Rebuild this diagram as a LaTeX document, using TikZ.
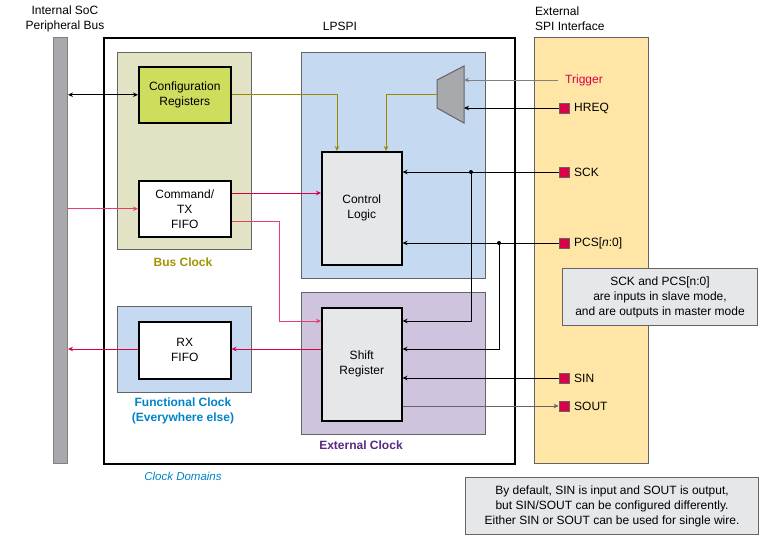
\documentclass[tikz,border=0pt]{standalone}
\usepackage{fontspec}
\setmainfont{Liberation Sans}
\usetikzlibrary{arrows.meta}

\definecolor{busclkfill}{RGB}{225,227,196}
\definecolor{cfgfill}{RGB}{206,221,92}
\definecolor{bluefill}{RGB}{197,217,240}
\definecolor{purplefill}{RGB}{207,196,222}
\definecolor{extfill}{RGB}{255,230,166}
\definecolor{boxgray}{RGB}{230,231,232}
\definecolor{muxgray}{RGB}{167,169,172}
\definecolor{edgegray}{RGB}{100,100,100}
\definecolor{sigred}{RGB}{220,0,72}
\definecolor{sigpink}{RGB}{232,60,115}
\definecolor{olivetext}{RGB}{160,150,0}
\definecolor{oliveline}{RGB}{150,140,0}
\definecolor{clkblue}{RGB}{0,132,200}
\definecolor{clkpurple}{RGB}{90,40,130}

\begin{document}
\begin{tikzpicture}[x=1pt, y=-1pt,
    >={Stealth[length=5pt, width=4.5pt]},
    txt/.style={font=\fontsize{12}{15}\selectfont, align=center},
    region/.style={draw=edgegray, line width=1pt, inner sep=0pt, anchor=north west},
    block/.style={draw=black, line width=1.5pt, inner sep=0pt, anchor=north west, txt},
    pin/.style={draw=edgegray, line width=0.8pt, fill=sigred, minimum size=10pt, inner sep=0pt},
    pinlabel/.style={txt, anchor=west, inner sep=0pt},
    clklabel/.style={txt, font=\fontsize{12}{15}\selectfont\bfseries},
    note/.style={draw=edgegray, line width=1pt, fill=boxgray, inner sep=0pt, anchor=north west, txt},
    wire/.style={line width=1pt, black},
    redwire/.style={line width=1pt, sigred},
    pinkwire/.style={line width=1pt, sigpink},
    olivewire/.style={line width=1pt, oliveline},
    dot/.style={circle, fill=black, inner sep=0pt, minimum size=4pt}]
  \useasboundingbox (0,0) rectangle (781,541);

  % bus, block outline and external interface
  \node[region, draw=gray, fill=muxgray, minimum width=14, minimum height=426] (bus) at (53,37) {};
  \node[txt] (bustitle) at (65,19) {Internal SoC\\Peripheral Bus};
  \node[draw=black, line width=1.5pt, inner sep=0pt, anchor=north west,
        minimum width=411, minimum height=426] (lpspi) at (103,37) {};
  \node[txt] (lpspititle) at (340,26) {LPSPI};
  \node[region, fill=extfill, minimum width=114, minimum height=426] (ext) at (534,37) {};
  \node[txt, align=left, anchor=west, inner sep=0pt] (exttitle) at (535,19) {External\\SPI Interface};

  % clock domains
  \node[region, fill=busclkfill, minimum width=134, minimum height=197] (busclk) at (117,52) {};
  \node[region, fill=bluefill, minimum width=184, minimum height=226] (ctrlclk) at (301,52) {};
  \node[region, fill=purplefill, minimum width=184, minimum height=142] (extclk) at (301,292) {};
  \node[region, fill=bluefill, minimum width=134, minimum height=86] (funclk) at (117,306) {};
  \node[clklabel, text=olivetext] (busclklabel) at (183,262) {Bus Clock};
  \node[clklabel, text=clkblue] (funclklabel) at (183,411) {Functional Clock\\(Everywhere else)};
  \node[clklabel, text=clkpurple] (extclklabel) at (361,445) {External Clock};
  \node[txt, text=clkblue, font=\fontsize{11.5}{14}\selectfont\itshape] (domains) at (183,476) {Clock Domains};

  % blocks
  \node[block, fill=cfgfill, minimum width=92, minimum height=56] (cfg) at (138,66) {Configuration\\Registers};
  \node[block, fill=white, minimum width=92, minimum height=56] (txf) at (138,180) {Command/\\TX\\FIFO};
  \node[block, fill=white, minimum width=92, minimum height=57] (rxf) at (138,321) {RX\\FIFO};
  \node[block, fill=boxgray, minimum width=80, minimum height=113] (ctrl) at (321,151) {Control\\Logic};
  \node[block, fill=boxgray, minimum width=80, minimum height=113] (shift) at (321,307) {Shift\\Register};
  \draw[fill=muxgray, draw=edgegray, line width=1pt] (437,80) -- (464,66) -- (464,123) -- (437,108) -- cycle;
  \coordinate (muxtrig) at (464,80);
  \coordinate (muxhreq) at (464,108);
  \coordinate (muxout) at (437,94);

  % pins
  \node[pin] (hreq) at (564,108) {};
  \node[pin] (sck) at (564,172) {};
  \node[pin] (pcs) at (564,243) {};
  \node[pin] (sin) at (564,378) {};
  \node[pin] (sout) at (564,406) {};
  \node[pinlabel] at (574,108) {HREQ};
  \node[pinlabel] at (574,172) {SCK};
  \node[pinlabel] at (574,243) {PCS[\textit{n}:0]};
  \node[pinlabel] at (574,378) {SIN};
  \node[pinlabel] at (574,406) {SOUT};
  \node[pinlabel, text=sigred] (trig) at (565,80) {Trigger};

  % notes
  \node[note, minimum width=195, minimum height=57] (note1) at (562,268)
    {SCK and PCS[n:0]\\are inputs in slave mode,\\and are outputs in master mode};
  \node[note, minimum width=293, minimum height=57] (note2) at (465,477)
    {By default, SIN is input and SOUT is output,\\but SIN/SOUT can be configured differently.\\Either SIN or SOUT can be used for single wire.};

  % bus side connections
  \draw[wire, <->] (bus.east |- cfg.west) -- (cfg.west);
  \draw[pinkwire, ->] (bus.east |- txf.west) -- (txf.west);
  \draw[redwire, ->] (rxf.west |- 0,349) -- (bus.east |- 0,349);
  \draw[redwire, ->] (shift.west |- 0,349) -- (rxf.east |- 0,349);
  \draw[redwire, ->] (txf.east |- 0,193) -- (ctrl.west |- 0,193);
  \draw[pinkwire, ->] (txf.east |- 0,221) -| (279,321) -- (shift.west |- 0,321);

  % configuration
  \draw[olivewire, ->] (cfg.east) -| (ctrl.north -| 337,0);
  \draw[olivewire, ->] (muxout) -| (ctrl.north -| 386,0);

  % external interface
  \draw[gray, line width=1pt, ->] (trig.west) ++(-7,0) -- (muxtrig);
  \draw[wire, ->] (hreq.west) -- (muxhreq);
  \draw[wire, ->] (sck.west) -- (ctrl.east |- sck);
  \draw[wire, ->] (pcs.west) -- (ctrl.east |- pcs);
  \node[dot] (jsck) at (471,172) {};
  \node[dot] (jpcs) at (499,243) {};
  \draw[wire, ->] (jsck.center) |- (shift.east |- 0,321);
  \draw[wire, ->] (jpcs.center) |- (shift.east |- 0,349);
  \draw[wire, ->] (sin.west) -- (shift.east |- sin);
  \draw[wire, edgegray, ->] (shift.east |- sout) -- (sout.west);
\end{tikzpicture}
\end{document}
